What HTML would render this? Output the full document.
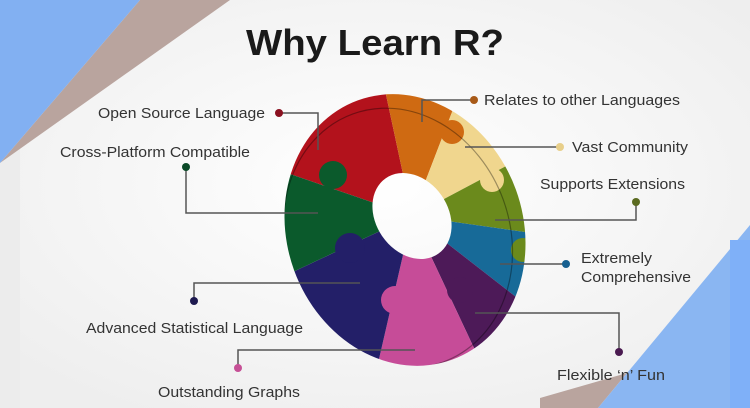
<!DOCTYPE html>
<html><head><meta charset="utf-8"><style>
html,body{margin:0;padding:0;width:750px;height:408px;overflow:hidden;background:#f4f4f4}
svg{display:block}
text{font-family:"Liberation Sans",sans-serif;fill:#333}
</style></head><body>
<svg width="750" height="408" viewBox="0 0 750 408" xmlns="http://www.w3.org/2000/svg">
<defs>
<radialGradient id="bg" cx="50%" cy="45%" r="65%"><stop offset="0" stop-color="#ffffff"/><stop offset="1" stop-color="#eeeeee"/></radialGradient>
<clipPath id="donut"><path clip-rule="evenodd" fill-rule="evenodd" d="M0 0Z"/></clipPath>
<mask id="dm">
<rect width="750" height="408" fill="black"/>
<ellipse cx="405" cy="230" rx="118" ry="138" transform="rotate(-20 405 230)" fill="white"/>
<ellipse cx="412" cy="216" rx="36" ry="46" transform="rotate(-35 412 216)" fill="black"/>
</mask>
</defs>
<rect width="750" height="408" fill="url(#bg)"/>
<rect x="0" y="0" width="20" height="408" fill="#ececec"/>
<polygon points="140,0 230,0 0,163" fill="#b9a49e"/>
<polygon points="0,0 140,0 0,163" fill="#82b0f2"/>
<polygon points="540,398 627,373 598,408 540,408" fill="#b9a49e"/>
<polygon points="750,225 750,408 598,408" fill="#8ab6f2"/>
<rect x="730" y="240" width="20" height="168" fill="#7fb0f8"/>

<text x="375" y="55" text-anchor="middle" font-size="36" font-weight="bold" fill="#1a1a1a" textLength="258" lengthAdjust="spacingAndGlyphs" style="fill:#1a1a1a">Why Learn R?</text>

<g mask="url(#dm)">
<polygon points="412,216 223,151 370,20" fill="#b3121c"/>
<polygon points="412,216 370,20 484,29" fill="#cf6a12"/>
<polygon points="412,216 484,29 589,122" fill="#f0d68e"/>
<polygon points="412,216 589,122 610,244" fill="#6b8a1c"/>
<polygon points="412,216 610,244 570,339" fill="#176a98"/>
<polygon points="412,216 570,339 497,397" fill="#4d1a58"/>
<polygon points="412,216 497,397 367,411" fill="#c64c98"/>
<polygon points="412,216 367,411 231,301" fill="#231f68"/>
<polygon points="412,216 231,301 223,151" fill="#0b5a2c"/>
<circle cx="333" cy="175" r="14" fill="#0b5a2c"/>
<circle cx="452" cy="132" r="12" fill="#cf6a12"/>
<circle cx="492" cy="180" r="12" fill="#f0d68e"/>
<circle cx="523" cy="250" r="12" fill="#6b8a1c"/>
<circle cx="350" cy="248" r="15" fill="#231f68"/>
<circle cx="395" cy="300" r="14" fill="#c64c98"/>
<circle cx="460" cy="290" r="13" fill="#4d1a58"/>
<ellipse cx="398" cy="238" rx="112" ry="132" transform="rotate(-20 398 238)" fill="none" stroke="rgba(0,0,0,0.35)" stroke-width="1.2"/>
</g>

<g stroke="#555" stroke-width="1.5" fill="none">
<polyline points="279,113 318,113 318,150"/>
<polyline points="186,167 186,213 318,213"/>
<polyline points="474,100 422,100 422,122"/>
<polyline points="560,147 465,147"/>
<polyline points="636,202 636,220 495,220"/>
<polyline points="566,264 500,264"/>
<polyline points="194,301 194,283 360,283"/>
<polyline points="238,368 238,350 415,350"/>
<polyline points="619,352 619,313 475,313"/>
</g>
<circle cx="279" cy="113" r="4" fill="#8a1020"/>
<circle cx="186" cy="167" r="4" fill="#0b4a28"/>
<circle cx="474" cy="100" r="4" fill="#a85a18"/>
<circle cx="560" cy="147" r="4" fill="#e8cf8a"/>
<circle cx="636" cy="202" r="4" fill="#5a6a20"/>
<circle cx="566" cy="264" r="4" fill="#166090"/>
<circle cx="194" cy="301" r="4" fill="#1e1a50"/>
<circle cx="238" cy="368" r="4" fill="#c65096"/>
<circle cx="619" cy="352" r="4" fill="#4a1a50"/>

<g font-size="14.5">
<text x="98" y="118" textLength="167" lengthAdjust="spacingAndGlyphs">Open Source Language</text>
<text x="60" y="157" textLength="190" lengthAdjust="spacingAndGlyphs">Cross-Platform Compatible</text>
<text x="484" y="105" textLength="196" lengthAdjust="spacingAndGlyphs">Relates to other Languages</text>
<text x="572" y="152" textLength="116" lengthAdjust="spacingAndGlyphs">Vast Community</text>
<text x="540" y="189" textLength="145" lengthAdjust="spacingAndGlyphs">Supports Extensions</text>
<text x="581" y="263" textLength="71" lengthAdjust="spacingAndGlyphs">Extremely</text>
<text x="581" y="282" textLength="110" lengthAdjust="spacingAndGlyphs">Comprehensive</text>
<text x="86" y="333" textLength="217" lengthAdjust="spacingAndGlyphs">Advanced Statistical Language</text>
<text x="158" y="397" textLength="142" lengthAdjust="spacingAndGlyphs">Outstanding Graphs</text>
<text x="557" y="380" textLength="108" lengthAdjust="spacingAndGlyphs">Flexible ‘n’ Fun</text>
</g>
</svg>
</body></html>
